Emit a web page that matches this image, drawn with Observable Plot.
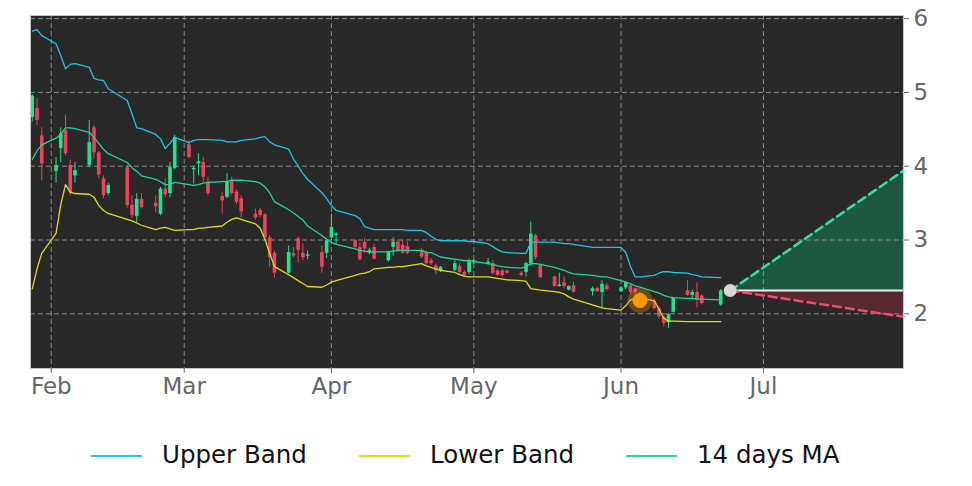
<!DOCTYPE html>
<html><head><meta charset="utf-8">
<script src="https://cdn.jsdelivr.net/npm/d3@7"></script>
<script src="https://cdn.jsdelivr.net/npm/@observablehq/plot@0.6"></script>
<style>
body{margin:0;background:#fff;width:972px;height:486px;overflow:hidden;font-family:"DejaVu Sans",sans-serif;}
#chart{width:972px;height:420px;}
#legend{position:relative;width:972px;height:66px;}
.sw{position:absolute;height:2px;width:51px;top:35px;}
.lb{position:absolute;top:21px;font-size:24.5px;color:#111;white-space:nowrap;line-height:28px;}
</style></head>
<body><div id="chart"></div><div id="legend"></div>
<script>
const dates = ["2026-01-28","2026-01-29","2026-01-30","2026-02-02","2026-02-03","2026-02-04","2026-02-05","2026-02-06","2026-02-09","2026-02-10","2026-02-11","2026-02-12","2026-02-13","2026-02-17","2026-02-18","2026-02-19","2026-02-20","2026-02-23","2026-02-24","2026-02-25","2026-02-26","2026-02-27","2026-03-02","2026-03-03","2026-03-04","2026-03-05","2026-03-06","2026-03-09","2026-03-10","2026-03-11","2026-03-12","2026-03-13","2026-03-16","2026-03-17","2026-03-18","2026-03-19","2026-03-20","2026-03-23","2026-03-24","2026-03-25","2026-03-26","2026-03-27","2026-03-30","2026-03-31","2026-04-01","2026-04-02","2026-04-06","2026-04-07","2026-04-08","2026-04-09","2026-04-10","2026-04-13","2026-04-14","2026-04-15","2026-04-16","2026-04-17","2026-04-20","2026-04-21","2026-04-22","2026-04-23","2026-04-24","2026-04-27","2026-04-28","2026-04-29","2026-04-30","2026-05-01","2026-05-04","2026-05-05","2026-05-06","2026-05-07","2026-05-08","2026-05-11","2026-05-12","2026-05-13","2026-05-14","2026-05-15","2026-05-18","2026-05-19","2026-05-20","2026-05-21","2026-05-22","2026-05-26","2026-05-27","2026-05-28","2026-05-29","2026-06-01","2026-06-02","2026-06-03","2026-06-04","2026-06-05","2026-06-08","2026-06-09","2026-06-10","2026-06-11","2026-06-12","2026-06-15","2026-06-16","2026-06-17","2026-06-18","2026-06-22"];
const opens = [4.66,4.78,4.41,3.93,4.24,4.48,4.01,3.87,4.01,4.52,4.18,3.83,3.63,3.98,3.47,3.32,3.55,3.5,3.35,3.69,3.63,3.97,4.29,3.95,4.03,4.05,3.77,3.59,3.58,3.81,3.65,3.56,3.35,3.4,3.34,3.03,2.82,2.55,2.82,3.02,2.82,2.78,2.83,2.82,3.03,3.06,2.99,2.9,2.97,2.82,2.9,2.72,2.9,2.97,2.93,2.91,2.86,2.83,2.72,2.65,2.58,2.59,2.64,2.56,2.56,2.69,2.68,2.68,2.58,2.58,2.58,2.55,2.56,2.68,3.06,2.65,2.5,2.37,2.42,2.32,2.38,2.3,2.34,2.29,2.38,2.3,2.35,2.38,2.34,2.28,2.17,2.07,1.95,1.88,2.02,2.31,2.25,2.29,2.24,2.12];
const highs = [4.97,4.92,4.52,4.12,4.52,4.69,4.08,4.05,4.62,4.55,4.2,3.87,3.77,4.01,3.6,3.63,3.63,3.6,3.71,3.83,4.05,4.42,4.35,4.0,4.17,4.12,3.85,3.64,3.9,3.85,3.68,3.6,3.42,3.43,3.36,3.06,2.85,2.92,2.9,3.05,2.95,2.85,2.92,3.01,3.35,3.1,3.0,2.96,3.02,2.89,2.94,2.85,3.03,3.0,3.0,2.97,2.88,2.85,2.75,2.67,2.64,2.72,2.68,2.58,2.74,2.73,2.75,2.72,2.6,2.6,2.59,2.57,2.7,3.24,3.08,2.66,2.51,2.55,2.5,2.38,2.43,2.36,2.36,2.45,2.41,2.37,2.44,2.4,2.35,2.3,2.2,2.1,1.97,2.0,2.22,2.45,2.32,2.42,2.26,2.33];
const lows = [4.6,4.55,3.8,3.77,4.05,4.14,3.6,3.77,3.98,4.1,3.83,3.56,3.6,3.43,3.29,3.22,3.42,3.37,3.33,3.57,3.57,3.95,4.1,3.76,3.87,3.78,3.6,3.35,3.56,3.6,3.48,3.3,3.27,3.3,3.02,2.63,2.48,2.54,2.76,2.69,2.72,2.73,2.55,2.75,2.99,2.94,2.87,2.72,2.82,2.8,2.73,2.7,2.78,2.83,2.81,2.8,2.75,2.66,2.66,2.53,2.56,2.57,2.54,2.49,2.53,2.67,2.66,2.53,2.51,2.5,2.54,2.5,2.5,2.65,2.73,2.48,2.36,2.36,2.34,2.31,2.28,2.24,2.29,2.08,2.31,2.29,2.33,2.26,2.26,2.15,2.05,1.93,1.82,1.8,2.01,2.24,2.2,2.08,2.12,2.1];
const closes = [4.95,4.62,4.03,4.01,4.44,4.17,3.64,3.94,4.32,4.18,3.88,3.6,3.74,3.47,3.33,3.55,3.44,3.45,3.69,3.61,3.98,4.39,4.12,3.97,4.06,3.85,3.63,3.53,3.78,3.63,3.51,3.38,3.3,3.33,3.03,2.76,2.55,2.83,2.78,2.86,2.76,2.8,2.63,2.99,3.17,3.08,2.9,2.73,2.88,2.86,2.74,2.83,2.97,2.86,2.82,2.82,2.77,2.68,2.68,2.58,2.63,2.68,2.56,2.52,2.72,2.72,2.7,2.55,2.52,2.52,2.55,2.52,2.68,3.08,2.76,2.49,2.37,2.39,2.37,2.37,2.29,2.34,2.3,2.4,2.33,2.35,2.42,2.29,2.29,2.18,2.07,1.96,1.87,1.99,2.21,2.25,2.29,2.18,2.14,2.31];
const upperBand = [5.83,5.85,5.77,5.66,5.5,5.32,5.38,5.39,5.34,5.19,5.17,5.16,5.05,4.89,4.71,4.52,4.51,4.43,4.37,4.24,4.31,4.39,4.32,4.35,4.36,4.36,4.36,4.35,4.33,4.33,4.33,4.35,4.37,4.39,4.4,4.33,4.29,4.23,4.1,4.0,3.9,3.82,3.64,3.56,3.47,3.4,3.33,3.29,3.18,3.16,3.14,3.14,3.14,3.14,3.14,3.13,3.13,3.1,3.05,3.01,2.99,2.99,2.99,2.99,2.98,2.98,2.95,2.91,2.87,2.84,2.83,2.82,2.82,2.97,2.97,2.97,2.97,2.96,2.95,2.95,2.94,2.9,2.9,2.9,2.9,2.9,2.83,2.64,2.5,2.5,2.52,2.55,2.57,2.57,2.56,2.55,2.53,2.52,2.5,2.49];
const movingAvg = [4.09,4.21,4.29,4.38,4.43,4.52,4.52,4.51,4.46,4.39,4.31,4.23,4.17,4.05,3.98,3.93,3.87,3.82,3.79,3.75,3.75,3.78,3.75,3.74,3.75,3.77,3.78,3.79,3.79,3.81,3.81,3.81,3.79,3.77,3.72,3.64,3.52,3.41,3.37,3.32,3.27,3.19,3.06,3.01,2.97,2.94,2.88,2.86,2.85,2.84,2.84,2.84,2.85,2.86,2.86,2.86,2.86,2.83,2.83,2.8,2.77,2.74,2.73,2.72,2.72,2.71,2.68,2.67,2.65,2.64,2.63,2.62,2.64,2.68,2.68,2.67,2.63,2.61,2.59,2.56,2.54,2.52,2.51,2.5,2.5,2.45,2.43,2.41,2.38,2.36,2.3,2.28,2.25,2.23,2.22,2.21,2.21,2.2,2.2,2.19];
const lowerBand = [2.34,2.61,2.82,3.09,3.48,3.75,3.65,3.63,3.62,3.58,3.47,3.4,3.36,3.28,3.26,3.23,3.2,3.14,3.16,3.17,3.15,3.13,3.14,3.14,3.16,3.16,3.17,3.19,3.24,3.28,3.3,3.28,3.22,3.16,3.01,2.82,2.64,2.53,2.49,2.45,2.41,2.37,2.36,2.39,2.43,2.45,2.52,2.54,2.55,2.57,2.61,2.63,2.63,2.64,2.64,2.65,2.68,2.65,2.63,2.61,2.59,2.56,2.53,2.51,2.5,2.5,2.5,2.49,2.48,2.47,2.46,2.45,2.44,2.34,2.33,2.32,2.3,2.29,2.27,2.23,2.2,2.12,2.1,2.08,2.07,2.05,2.11,2.19,2.21,2.21,2.18,2.06,1.94,1.9,1.9,1.895,1.895,1.895,1.895,1.895];
const signalDates = ["2026-06-05"];
const signalValues = [2.18];
const projDates = ["2026-06-24T00:00Z","2026-07-30T12:00Z"];
const projBase = [2.316, 2.316];
const projUpper = [2.316, 3.94];
const projLower = [2.316, 1.96];
const monthTicks = ["2026-02-01","2026-03-01","2026-04-01","2026-05-01","2026-06-01","2026-07-01"];
const yTicks = [2, 3, 4, 5, 6];
const xDomain = ["2026-01-27T15:00Z","2026-07-30T12:00Z"];
const yDomain = [1.259, 6.042];

const UP = "#1ee68e", DOWN = "#f0415f";
const candles = dates.map((d, i) => ({date: new Date(d), open: opens[i], high: highs[i], low: lows[i], close: closes[i]}));
const ups = candles.filter(c => c.close >= c.open);
const downs = candles.filter(c => c.close < c.open);
const bands = dates.map((d, i) => ({date: new Date(d), upper: upperBand[i], ma: movingAvg[i], lower: lowerBand[i]}));
const proj = projDates.map((d, i) => ({date: new Date(d), base: projBase[i], up: projUpper[i], low: projLower[i]}));
const signal = signalDates.map((d, i) => ({date: new Date(d), v: signalValues[i]}));
const last = [{date: proj[0].date, v: projBase[0]}];

const plot = Plot.plot({
  width: 972, height: 420,
  marginLeft: 30, marginRight: 69, marginTop: 15, marginBottom: 52,
  style: {fontFamily: "DejaVu Sans, sans-serif", fontSize: "23px", background: "transparent"},
  x: {type: "utc", domain: xDomain.map(d => new Date(d))},
  y: {domain: yDomain},
  marks: [
    Plot.frame({fill: "#282828"}),
    Plot.areaY(proj, {x: "date", y1: "base", y2: "up", fill: "#1f5842"}),
    Plot.areaY(proj, {x: "date", y1: "low", y2: "base", fill: "#582931"}),
    Plot.gridX({ticks: monthTicks.map(d => new Date(d)), stroke: "#a8a8a8", strokeOpacity: 0.75, strokeDasharray: "5,3", strokeWidth: 1}),
    Plot.gridY({ticks: yTicks, stroke: "#a8a8a8", strokeOpacity: 0.75, strokeDasharray: "5,3", strokeWidth: 1}),
    Plot.ruleX(ups, {x: "date", y1: "low", y2: "high", stroke: UP, strokeWidth: 1}),
    Plot.ruleX(downs, {x: "date", y1: "low", y2: "high", stroke: DOWN, strokeWidth: 1}),
    Plot.ruleX(ups, {x: "date", y1: "open", y2: "close", stroke: UP, strokeWidth: 3.6}),
    Plot.ruleX(downs, {x: "date", y1: "open", y2: "close", stroke: DOWN, strokeWidth: 3.6}),
    Plot.line(bands, {x: "date", y: "upper", stroke: "#1cc6e4", strokeWidth: 1.3}),
    Plot.line(bands, {x: "date", y: "lower", stroke: "#dede1c", strokeWidth: 1.3}),
    Plot.line(bands, {x: "date", y: "ma", stroke: "#22d49c", strokeWidth: 1.3}),
    Plot.line(proj, {x: "date", y: "base", stroke: "#eeeeee", strokeWidth: 2}),
    Plot.line(proj, {x: "date", y: "up", stroke: "#2ee8a2", strokeWidth: 2.5, strokeDasharray: "8,5"}),
    Plot.line(proj, {x: "date", y: "low", stroke: "#f44a6a", strokeWidth: 2.5, strokeDasharray: "8,5"}),
    Plot.dot(signal, {x: "date", y: "v", r: 12.5, fill: "#ff9900", fillOpacity: 0.3}),
    Plot.dot(signal, {x: "date", y: "v", r: 7.5, fill: "#ff9a00"}),
    Plot.dot(last, {x: "date", y: "v", r: 6.5, fill: "#d8d8d8"}),
    Plot.frame({stroke: "#c8c8c8", strokeWidth: 1}),
    Plot.axisX({ticks: monthTicks.map(d => new Date(d)), tickFormat: d3.utcFormat("%b"), tickSize: 5, tickPadding: 4, color: "#666", fontSize: 23, label: null}),
    Plot.axisY({anchor: "right", ticks: yTicks, tickFormat: d => String(d), tickSize: 5, tickPadding: 5, color: "#666", fontSize: 23, label: null})
  ]
});
document.getElementById("chart").appendChild(plot);

const legendItems = [
  {label: "Upper Band", color: "#1cc6e4", left: 91},
  {label: "Lower Band", color: "#dede1c", left: 359},
  {label: "14 days MA", color: "#22d49c", left: 626}
];
const lg = document.getElementById("legend");
for (const it of legendItems) {
  const s = document.createElement("div");
  s.className = "sw"; s.style.left = it.left + "px"; s.style.background = it.color;
  lg.appendChild(s);
  const t = document.createElement("div");
  t.className = "lb"; t.style.left = (it.left + 71) + "px"; t.textContent = it.label;
  lg.appendChild(t);
}
</script>
</body></html>
